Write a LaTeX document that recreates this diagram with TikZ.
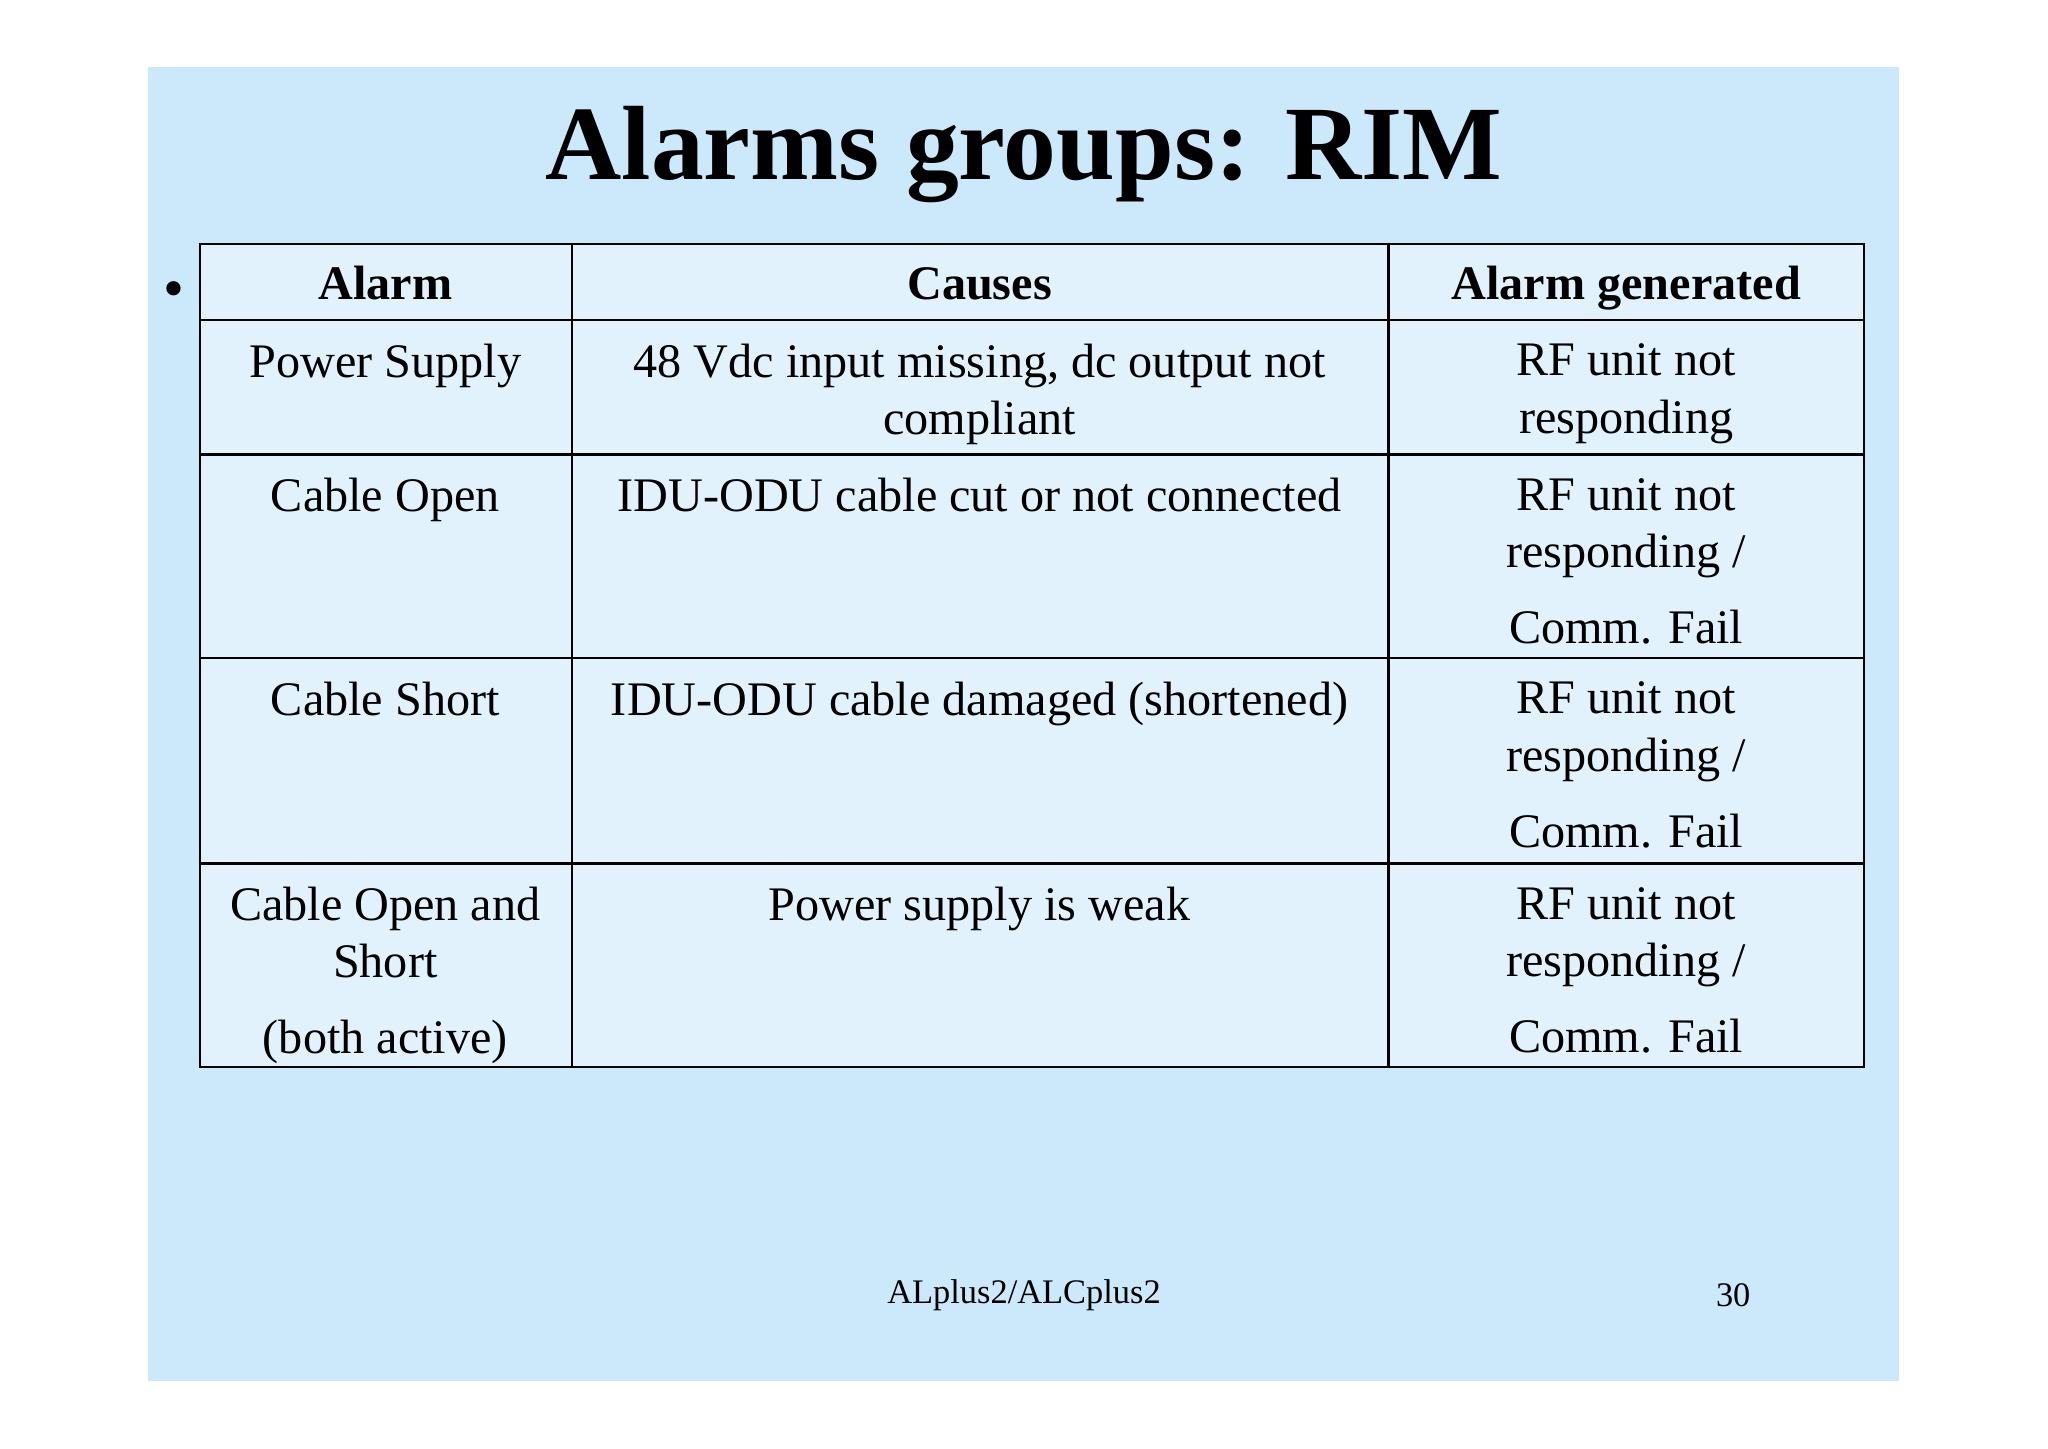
\documentclass[tikz,border=0pt]{standalone}
\usepackage{fontspec}
\setmainfont{Liberation Serif}
\definecolor{slidebg}{HTML}{CCE8FB}
\definecolor{cellbg}{HTML}{E2F2FC}
\begin{document}
\begin{tikzpicture}[x=0.02cm,y=-0.02cm,
  cell/.style={font=\fontsize{21}{25}\selectfont,align=center,anchor=north},
  head/.style={font=\fontsize{21}{25}\selectfont\bfseries,anchor=base}]
\useasboundingbox (0,0) rectangle (1568,1109);
\fill[white] (0,0) rectangle (1568,1109);
\fill[slidebg] (113,51) rectangle (1454,1057);
\node[font=\fontsize{46}{54}\selectfont\bfseries] (title) at (784,118) {Alarms groups: RIM};
\node[font=\fontsize{26}{30}\selectfont] (bullet) at (133,226) {•};
\fill[cellbg] (153,187) rectangle (1427,817);
\draw[line width=1pt] (153,187) rectangle (1427,817);
\foreach \y in {245,348,504,661} \draw[line width=1pt] (153,\y) -- (1427,\y);
\foreach \x in {438,1063} \draw[line width=1pt] (\x,187) -- (\x,817);
\node[head] (h1) at (295,229) {Alarm};
\node[head] (h2) at (750,229) {Causes};
\node[head] (h3) at (1245,229) {Alarm generated};
\node[cell] (a1) at (295,257) {Power Supply};
\node[cell] (c1) at (750,257) {48 Vdc input missing, dc output not\\compliant};
\node[cell] (g1) at (1245,257) {RF unit not\\responding};
\node[cell] (a2) at (295,360) {Cable Open};
\node[cell] (c2) at (750,360) {IDU-ODU cable cut or not connected};
\node[cell] (g2) at (1245,360) {RF unit not\\responding /\\[8pt]Comm. Fail};
\node[cell] (a3) at (295,516) {Cable Short};
\node[cell] (c3) at (750,516) {IDU-ODU cable damaged (shortened)};
\node[cell] (g3) at (1245,516) {RF unit not\\responding /\\[8pt]Comm. Fail};
\node[cell] (a4) at (295,673) {Cable Open and\\Short\\[8pt](both active)};
\node[cell] (c4) at (750,673) {Power supply is weak};
\node[cell] (g4) at (1245,673) {RF unit not\\responding /\\[8pt]Comm. Fail};
\node[font=\fontsize{15}{17}\selectfont] (foot) at (784,992) {ALplus2/ALCplus2};
\node[font=\fontsize{15}{17}\selectfont] (page) at (1327,992) {30};
\end{tikzpicture}
\end{document}
